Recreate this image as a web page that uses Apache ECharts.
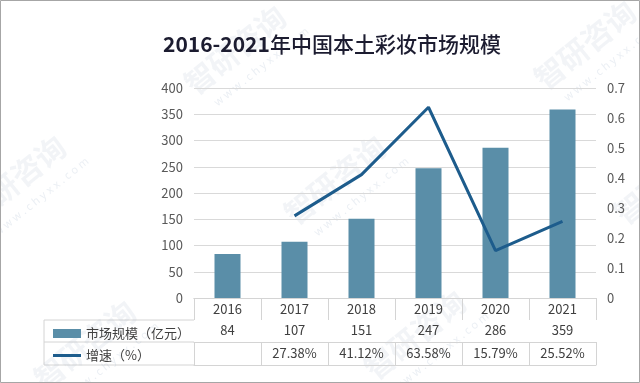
<!DOCTYPE html>
<html>
<head>
<meta charset="utf-8">
<script src="https://cdn.jsdelivr.net/npm/echarts@6/dist/echarts.min.js"></script>
<style>html,body{margin:0;padding:0;background:#fff;}#c{width:640px;height:383px;}</style>
</head>
<body>
<div id="c"></div>
<script>
const titleYears = '2016-2021';
const titleRest = '年中国本土彩妆市场规模';
const years = ['2016', '2017', '2018', '2019', '2020', '2021'];
const marketSize = [84, 107, 151, 247, 286, 359];
const growthRate = [null, 0.2738, 0.4112, 0.6358, 0.1579, 0.2552];
const leftTicks = { min: 0, max: 400, interval: 50 };
const rightTicks = { min: 0, max: 0.7, interval: 0.1 };
const seriesNames = ['市场规模（亿元）', '增速（%）'];
const watermarkText = '智研咨询';
const watermarkSite = 'w w w . c h y x x . c o m';

const sizeLabels = marketSize.map(v => String(v));
const growthLabels = growthRate.map(v => v == null ? '' : (v * 100).toFixed(2) + '%');

const GL = 194, GR = 44, GT = 88, GB = 85, W = 640, H = 383;
const ROW1 = H - GB + 22, ROW2 = ROW1 + 22, ROW3 = ROW2 + 23;
const TABLE_LEFT = 44;
const lineC = '#d4d4d4';
const font = 'Noto Sans CJK SC';
const barColor = '#5a8ea8', lineColor = '#1d5c8c';

function tableAxis(offset, labels, tickLen, margin, showLabel) {
  return {
    type: 'category', data: years, position: 'bottom', offset: offset,
    boundaryGap: true,
    axisLine: { show: true, lineStyle: { color: lineC, width: 1 } },
    axisTick: { show: tickLen > 0, length: tickLen, interval: 0, lineStyle: { color: lineC } },
    axisLabel: { show: showLabel, interval: 0, margin: margin, color: '#404040', fontSize: 13, fontFamily: font,
      formatter: (v, i) => labels[i] },
    splitLine: { show: false }
  };
}

const wmPositions = [[235, 50], [585, 45], [15, 180], [335, 180], [665, 180], [85, 345], [415, 335]];
const watermarks = [];
wmPositions.forEach(p => {
  watermarks.push({
    type: 'group', x: p[0], y: p[1], rotation: 0.68, silent: true, z: 100,
    children: [
      { type: 'text', style: { text: watermarkText, x: 0, y: 0, align: 'center', verticalAlign: 'middle',
        font: 'bold 30px "Noto Sans CJK SC"', fill: 'rgba(175,190,210,0.17)' } },
      { type: 'text', style: { text: watermarkSite, x: 10, y: 30, align: 'center', verticalAlign: 'middle',
        font: '11px "Noto Sans"', fill: 'rgba(175,190,210,0.25)' } }
    ]
  });
});

const chart = echarts.init(document.getElementById('c'), null, { renderer: 'canvas' });
chart.setOption({
  backgroundColor: '#ffffff',
  animation: false,
  title: {
    text: '{a|' + titleYears + '}{b|' + titleRest + '}', left: 158, top: 29,
    textStyle: {
      rich: {
        a: { fontSize: 21, fontWeight: 'bold', color: '#1c1c30', fontFamily: font },
        b: { fontSize: 21, fontWeight: 500, color: '#1c1c30', fontFamily: font }
      }
    }
  },
  legend: {
    data: [
      { name: seriesNames[0], icon: 'rect' },
      { name: seriesNames[1], icon: 'path://M0,0L28,0L28,3L0,3Z' }
    ],
    orient: 'vertical', left: 48, top: 322, itemWidth: 28, itemHeight: 9, itemGap: 9,
    textStyle: { fontSize: 13, color: '#404040', fontFamily: font }, selectedMode: false
  },
  grid: { left: GL, right: GR, top: GT, bottom: GB, containLabel: false },
  xAxis: [
    tableAxis(0, years, 22, 5, true),
    tableAxis(22, sizeLabels, 22, 4, true),
    tableAxis(44, growthLabels, 23, 5, true),
    tableAxis(67, years, 0, 0, false)
  ],
  yAxis: [
    { type: 'value', min: leftTicks.min, max: leftTicks.max, interval: leftTicks.interval,
      axisLine: { show: false }, axisTick: { show: false },
      axisLabel: { margin: 11, color: '#595959', fontSize: 13, fontFamily: font },
      splitLine: { lineStyle: { color: '#d9d9d9' } } },
    { type: 'value', min: rightTicks.min, max: rightTicks.max, interval: rightTicks.interval,
      axisLine: { show: false }, axisTick: { show: false },
      axisLabel: { margin: 11, color: '#595959', fontSize: 13, fontFamily: font },
      splitLine: { show: false } }
  ],
  series: [
    { name: seriesNames[0], type: 'bar', data: marketSize, xAxisIndex: 0, yAxisIndex: 0, barWidth: 26,
      itemStyle: { color: barColor } },
    { name: seriesNames[1], type: 'line', data: growthRate, xAxisIndex: 0, yAxisIndex: 1,
      symbol: 'none', lineStyle: { color: lineColor, width: 3 }, itemStyle: { color: lineColor } }
  ],
  graphic: [
    { type: 'line', shape: { x1: TABLE_LEFT, y1: ROW1, x2: GL, y2: ROW1 }, style: { stroke: lineC, lineWidth: 1 } },
    { type: 'line', shape: { x1: TABLE_LEFT, y1: ROW2, x2: GL, y2: ROW2 }, style: { stroke: lineC, lineWidth: 1 } },
    { type: 'line', shape: { x1: TABLE_LEFT, y1: ROW3, x2: GL, y2: ROW3 }, style: { stroke: lineC, lineWidth: 1 } },
    { type: 'line', shape: { x1: TABLE_LEFT, y1: ROW1, x2: TABLE_LEFT, y2: ROW3 }, style: { stroke: lineC, lineWidth: 1 } },
    { type: 'rect', shape: { x: 0.5, y: 0.5, width: W - 1, height: H - 1 }, style: { fill: null, stroke: '#a6a6a6', lineWidth: 1 }, silent: true, z: 101 }
  ].concat(watermarks)
});
</script>
</body>
</html>
